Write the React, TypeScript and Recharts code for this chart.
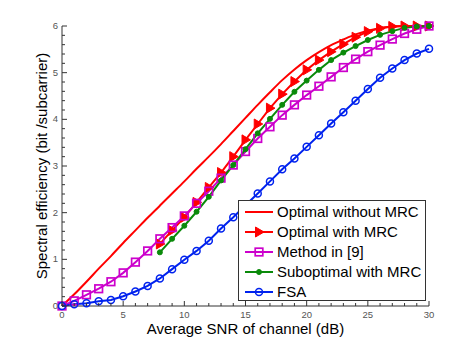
import { LineChart, Line, XAxis, YAxis, Legend } from 'recharts'

const snr = [0, 1, 2, 3, 4, 5, 6, 7, 8, 9, 10, 11, 12, 13, 14, 15, 16, 17, 18, 19, 20, 21, 22, 23, 24, 25, 26, 27, 28, 29, 30]

const optimalNoMrc = [0, 0.25, 0.52, 0.8, 1.07, 1.35, 1.62, 1.89, 2.15, 2.41, 2.67, 2.94, 3.2, 3.47, 3.75, 4.03, 4.31, 4.58, 4.84, 5.07, 5.27, 5.44, 5.59, 5.71, 5.82, 5.9, 5.96, 5.99, 6, 6, 6]
const optimalMrc = [null, null, null, null, null, null, null, null, 1.33, 1.62, 1.9, 2.22, 2.54, 2.86, 3.2, 3.56, 3.9, 4.24, 4.54, 4.81, 5.06, 5.27, 5.45, 5.61, 5.76, 5.88, 5.95, 5.99, 6, 6, 6]
const method9 = [0, 0.11, 0.24, 0.37, 0.52, 0.71, 0.94, 1.18, 1.44, 1.68, 1.93, 2.2, 2.46, 2.74, 3.02, 3.31, 3.59, 3.84, 4.09, 4.31, 4.52, 4.71, 4.91, 5.11, 5.29, 5.45, 5.59, 5.72, 5.84, 5.93, 6]
const suboptimalMrc = [null, null, null, null, null, null, null, null, 1.15, 1.44, 1.72, 2.02, 2.34, 2.69, 3.02, 3.36, 3.7, 4.01, 4.31, 4.59, 4.83, 5.06, 5.27, 5.43, 5.57, 5.7, 5.81, 5.89, 5.96, 5.99, 6]
const fsa = [0, 0.04, 0.06, 0.1, 0.13, 0.21, 0.31, 0.43, 0.59, 0.79, 0.99, 1.18, 1.4, 1.66, 1.9, 2.16, 2.41, 2.67, 2.93, 3.16, 3.41, 3.66, 3.91, 4.15, 4.4, 4.65, 4.89, 5.09, 5.27, 5.41, 5.51]

const xTicks = snr
const xLabels = [0, 5, 10, 15, 20, 25, 30]
const yTicks = [0, 0.2, 0.4, 0.6, 0.8, 1, 1.2, 1.4, 1.6, 1.8, 2, 2.2, 2.4, 2.6, 2.8, 3, 3.2, 3.4, 3.6, 3.8, 4, 4.2, 4.4, 4.6, 4.8, 5, 5.2, 5.4, 5.6, 5.8, 6]
const yLabels = [0, 1, 2, 3, 4, 5, 6]

const data = snr.map((s, i) => ({
  snr: s,
  opt: optimalNoMrc[i],
  optMrc: optimalMrc[i],
  m9: method9[i],
  sub: suboptimalMrc[i],
  fsa: fsa[i],
}))

const FONT = "'Liberation Sans', Arial, Helvetica, sans-serif"
const AXIS = '#333'
const TICK_TEXT = '#555'

const RED = '#ff0000'
const MAGENTA = '#cc00cc'
const GREEN = '#0a8a0a'
const BLUE = '#0022ee'

type Marker = 'none' | 'triangle' | 'square' | 'dot' | 'circle'

function drawMarker(kind: Marker, cx: number, cy: number, color: string, key?: any) {
  if (kind === 'triangle')
    return <polygon key={key} points={`${cx + 5},${cy} ${cx - 3.5},${cy - 5} ${cx - 3.5},${cy + 5}`} fill={color} stroke={color} strokeWidth={1} />
  if (kind === 'square')
    return <rect key={key} x={cx - 3.8} y={cy - 3.8} width={7.6} height={7.6} fill="none" stroke={color} strokeWidth={1.7} />
  if (kind === 'dot') return <circle key={key} cx={cx} cy={cy} r={2.5} fill={color} stroke={color} />
  if (kind === 'circle') return <circle key={key} cx={cx} cy={cy} r={3.5} fill="none" stroke={color} strokeWidth={1.5} />
  return <g key={key} />
}

function markerDot(kind: Marker, color: string) {
  return (props: any) => {
    const { cx, cy, index } = props
    if (cx == null || cy == null || Number.isNaN(cy)) return <g key={index} />
    return drawMarker(kind, cx, cy, color, index)
  }
}

const series = [
  { key: 'opt', name: 'Optimal without MRC', color: RED, marker: 'none' as Marker, width: 2 },
  { key: 'optMrc', name: 'Optimal with MRC', color: RED, marker: 'triangle' as Marker, width: 2 },
  { key: 'm9', name: 'Method in [9]', color: MAGENTA, marker: 'square' as Marker, width: 2 },
  { key: 'sub', name: 'Suboptimal with MRC', color: GREEN, marker: 'dot' as Marker, width: 2 },
  { key: 'fsa', name: 'FSA', color: BLUE, marker: 'circle' as Marker, width: 2 },
]

function BottomTick({ x, y, payload }: any) {
  const major = xLabels.includes(payload.value)
  return (
    <g>
      <line x1={x} y1={y} x2={x} y2={y - (major ? 5 : 3)} stroke={AXIS} />
      {major && (
        <text x={x} y={y + 12} textAnchor="middle" fontSize={9.5} fill={TICK_TEXT} fontFamily={FONT}>
          {payload.value}
        </text>
      )}
    </g>
  )
}

function TopTick({ x, y, payload }: any) {
  const major = xLabels.includes(payload.value)
  return <line x1={x} y1={y} x2={x} y2={y + (major ? 5 : 3)} stroke={AXIS} />
}

function LeftTick({ x, y, payload }: any) {
  const major = yLabels.includes(payload.value)
  return (
    <g>
      <line x1={x} y1={y} x2={x + (major ? 5 : 3)} y2={y} stroke={AXIS} />
      {major && (
        <text x={x - 4} y={y + 3} textAnchor="end" fontSize={9.5} fill={TICK_TEXT} fontFamily={FONT}>
          {payload.value}
        </text>
      )}
    </g>
  )
}

function RightTick({ x, y, payload }: any) {
  const major = yLabels.includes(payload.value)
  return <line x1={x} y1={y} x2={x - (major ? 5 : 3)} y2={y} stroke={AXIS} />
}

function TitleLabel({ viewBox }: any) {
  return (
    <text x={viewBox.x + viewBox.width / 2} y={viewBox.y - 8} textAnchor="middle" fontSize={15} fontFamily={FONT} fill="#000">
      Spectral Efficiency
    </text>
  )
}

function XTitle({ viewBox }: any) {
  return (
    <text x={viewBox.x + viewBox.width / 2} y={viewBox.y + 28} textAnchor="middle" fontSize={15} fontFamily={FONT} fill="#000">
      Average SNR of channel (dB)
    </text>
  )
}

function YTitle({ viewBox }: any) {
  const x = viewBox.x + 47
  const y = viewBox.y + viewBox.height / 2
  return (
    <text x={x} y={y} transform={`rotate(-90, ${x}, ${y})`} textAnchor="middle" fontSize={15} fontFamily={FONT} fill="#000">
      Spectral efficiency (bit /subcarrier)
    </text>
  )
}

function LegendBox() {
  return (
    <div
      style={{
        border: `1px solid ${AXIS}`,
        background: '#fff',
        paddingTop: 1,
        fontFamily: FONT,
        fontSize: 15,
        color: '#000',
        boxSizing: 'border-box',
        width: 188,
        height: 101,
      }}
    >
      {series.map((s) => (
        <div key={s.key} style={{ display: 'flex', alignItems: 'center', height: 20, lineHeight: '20px' }}>
          <svg width={38} height={20} style={{ flex: 'none' }}>
            <line x1={6} y1={10} x2={34} y2={10} stroke={s.color} strokeWidth={s.width} />
            {drawMarker(s.marker, 20, 10, s.color)}
          </svg>
          <span style={{ whiteSpace: 'nowrap' }}>{s.name}</span>
        </div>
      ))}
    </div>
  )
}

export default function App() {
  return (
    <div style={{ position: 'absolute', left: 0, top: 0, width: 474, height: 344, background: '#fff' }}>
      <LineChart width={474} height={344} data={data} margin={{ top: 26, right: 45, bottom: 0, left: 0 }}>
        <XAxis
          dataKey="snr"
          type="number"
          domain={[0, 30]}
          ticks={xTicks}
          interval={0}
          height={38}
          tickSize={0}
          tickMargin={0}
          tickLine={false}
          axisLine={{ stroke: AXIS }}
          tick={<BottomTick />}
          label={<XTitle />}
        />
        <XAxis
          xAxisId="top"
          orientation="top"
          dataKey="snr"
          type="number"
          domain={[0, 30]}
          ticks={xTicks}
          interval={0}
          height={0}
          tickSize={0}
          tickMargin={0}
          tickLine={false}
          axisLine={{ stroke: AXIS }}
          tick={<TopTick />}
          label={<TitleLabel />}
        />
        <YAxis
          type="number"
          domain={[0, 6]}
          ticks={yTicks}
          interval={0}
          width={62}
          tickSize={0}
          tickMargin={0}
          tickLine={false}
          axisLine={{ stroke: AXIS }}
          tick={<LeftTick />}
          label={<YTitle />}
        />
        <YAxis
          yAxisId="right"
          orientation="right"
          type="number"
          domain={[0, 6]}
          ticks={yTicks}
          interval={0}
          width={0}
          tickSize={0}
          tickMargin={0}
          tickLine={false}
          axisLine={{ stroke: AXIS }}
          tick={<RightTick />}
        />
        <Legend
          layout="vertical"
          align="center"
          verticalAlign="middle"
          content={<LegendBox />}
          wrapperStyle={{ left: 238, top: 200, width: 188, height: 101 }}
        />
        {series.map((s) => (
          <Line
            key={s.key}
            dataKey={s.key}
            name={s.name}
            type={s.marker === 'none' ? 'monotone' : 'linear'}
            stroke={s.color}
            strokeWidth={s.width}
            dot={s.marker === 'none' ? false : markerDot(s.marker, s.color)}
            activeDot={false}
            isAnimationActive={false}
          />
        ))}
      </LineChart>
    </div>
  )
}
